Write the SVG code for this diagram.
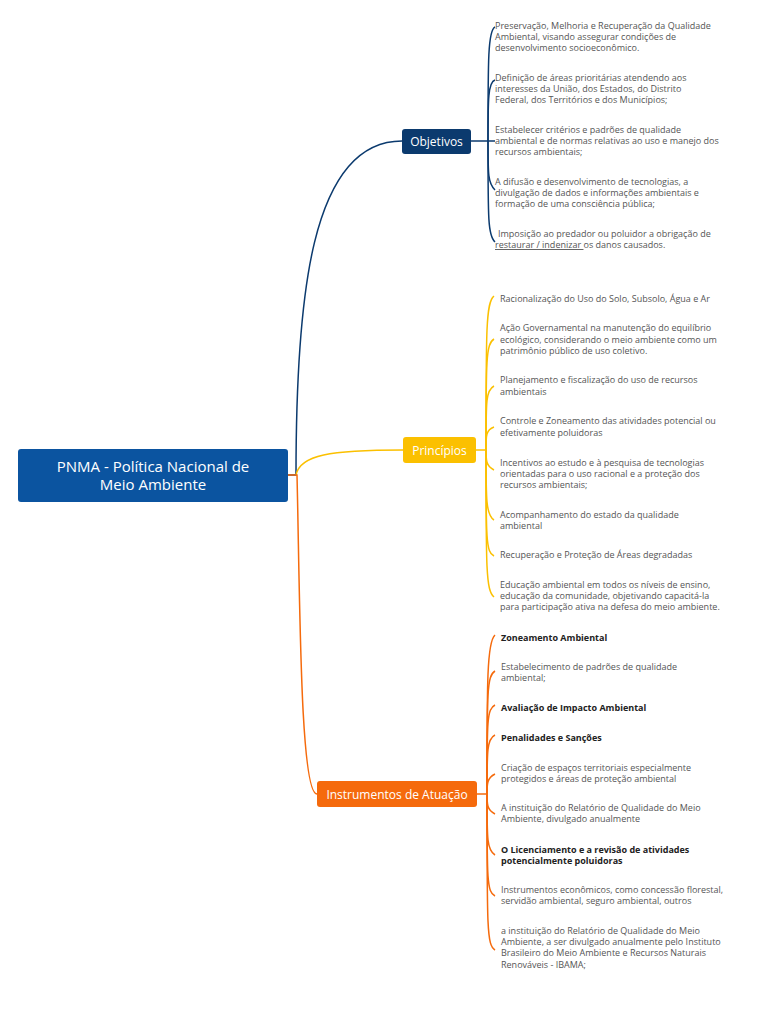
<svg xmlns="http://www.w3.org/2000/svg" width="768" height="1024" viewBox="0 0 768 1024">
<style>
.t{font-family:"Open Sans","Noto Sans",sans-serif;font-size:9px;fill:#555}
.b{font-family:"Open Sans","Noto Sans",sans-serif;font-size:9px;fill:#222;font-weight:bold}
.n{font-family:"Open Sans","Noto Sans",sans-serif;fill:#fff}
.cb{fill:none;stroke:#0b3a6e;stroke-width:1.5}
.cy{fill:none;stroke:#fbc000;stroke-width:1.5}
.co{fill:none;stroke:#f56a0c;stroke-width:1.5}
</style>
<rect width="768" height="1024" fill="#fff"/>
<g id="connectors">
<path class="cb" d="M288,475 L296,475 C296,300 310,141 402,141"/>
<path class="cy" d="M296,475 C300,455 330,450 403,450"/>
<path class="co" d="M288,475 L297,475 C300,600 300,794 317,794"/>
<g class="cb">
<path d="M471,141 L488,141"/>
<path d="M488,141 C488,60 488,30 495,27"/>
<path d="M488,141 C488,100 488,82 495,80"/>
<path d="M488,141 L495,141"/>
<path d="M488,141 C488,175 488,183 495,190"/>
<path d="M488,141 C488,220 488,236 495,242"/>
</g>
<g class="cy">
<path d="M476,450 L486,450"/>
<path d="M486,450 C486,330 486,302 494,296"/>
<path d="M486,450 C486,360 486,344 494,339"/>
<path d="M486,450 C486,400 486,390 494,386"/>
<path d="M486,450 C486,435 486,430 494,427"/>
<path d="M486,450 C486,460 486,466 494,470"/>
<path d="M486,450 C486,500 486,515 494,520"/>
<path d="M486,450 C486,540 486,552 494,556"/>
<path d="M486,450 C486,570 486,590 494,597"/>
</g>
<g class="co">
<path d="M477,794 L487,794"/>
<path d="M487,794 C487,680 487,642 495,635"/>
<path d="M487,794 C487,690 487,676 495,671"/>
<path d="M487,794 C487,720 487,709 495,705"/>
<path d="M487,794 C487,750 487,739 495,735"/>
<path d="M487,794 C487,784 487,778 495,774"/>
<path d="M487,794 C487,804 487,810 495,814"/>
<path d="M487,794 C487,840 487,850 495,855"/>
<path d="M487,794 C487,880 487,892 495,896"/>
<path d="M487,794 C487,930 487,945 495,950"/>
</g>
</g>
<g id="root">
<rect x="18" y="449" width="270" height="53" rx="3" fill="#0b54a0"/>
<text class="n" x="153" y="472" font-size="15" text-anchor="middle">PNMA - Política Nacional de</text>
<text class="n" x="153" y="490" font-size="15" text-anchor="middle">Meio Ambiente</text>
</g>
<g id="objetivos">
<rect x="402" y="129" width="69" height="25" rx="3" fill="#0b3a6e"/>
<text class="n" x="436.5" y="146" font-size="12" text-anchor="middle">Objetivos</text>
</g>
<g id="principios">
<rect x="403" y="437" width="73" height="26" rx="3" fill="#fbc000"/>
<text class="n" x="439.5" y="455" font-size="12" text-anchor="middle">Princípios</text>
</g>
<g id="instrumentos">
<rect x="317" y="781" width="160" height="26" rx="3" fill="#f56a0c"/>
<text class="n" x="397" y="799" font-size="12" text-anchor="middle">Instrumentos de Atuação</text>
</g>
<g id="obj-items">
<text class="t" x="495" y="29">Preservação, Melhoria e Recuperação da Qualidade</text>
<text class="t" x="495" y="40">Ambiental, visando assegurar condições de</text>
<text class="t" x="495" y="51">desenvolvimento socioeconômico.</text>
<text class="t" x="495" y="81">Definição de áreas prioritárias atendendo aos</text>
<text class="t" x="495" y="92">interesses da União, dos Estados, do Distrito</text>
<text class="t" x="495" y="103">Federal, dos Territórios e dos Municípios;</text>
<text class="t" x="495" y="133">Estabelecer critérios e padrões de qualidade</text>
<text class="t" x="495" y="144">ambiental e de normas relativas ao uso e manejo dos</text>
<text class="t" x="495" y="155">recursos ambientais;</text>
<text class="t" x="495" y="185">A difusão e desenvolvimento de tecnologias, a</text>
<text class="t" x="495" y="196">divulgação de dados e informações ambientais e</text>
<text class="t" x="495" y="207">formação de uma consciência pública;</text>
<text class="t" x="498" y="237">Imposição ao predador ou poluidor a obrigação de</text>
<text class="t" x="495" y="248"><tspan text-decoration="underline">restaurar / indenizar </tspan>os danos causados.</text>
</g>
<g id="prin-items">
<text class="t" x="500" y="302">Racionalização do Uso do Solo, Subsolo, Água e Ar</text>
<text class="t" x="500" y="331">Ação Governamental na manutenção do equilíbrio</text>
<text class="t" x="500" y="343">ecológico, considerando o meio ambiente como um</text>
<text class="t" x="500" y="354">patrimônio público de uso coletivo.</text>
<text class="t" x="500" y="383">Planejamento e fiscalização do uso de recursos</text>
<text class="t" x="500" y="395">ambientais</text>
<text class="t" x="500" y="424">Controle e Zoneamento das atividades potencial ou</text>
<text class="t" x="500" y="436">efetivamente poluidoras</text>
<text class="t" x="500" y="466">Incentivos ao estudo e à pesquisa de tecnologias</text>
<text class="t" x="500" y="477">orientadas para o uso racional e a proteção dos</text>
<text class="t" x="500" y="488">recursos ambientais;</text>
<text class="t" x="500" y="518">Acompanhamento do estado da qualidade</text>
<text class="t" x="500" y="529">ambiental</text>
<text class="t" x="500" y="558">Recuperação e Proteção de Áreas degradadas</text>
<text class="t" x="500" y="588">Educação ambiental em todos os níveis de ensino,</text>
<text class="t" x="500" y="599">educação da comunidade, objetivando capacitá-la</text>
<text class="t" x="500" y="610">para participação ativa na defesa do meio ambiente.</text>
</g>
<g id="inst-items">
<text class="b" x="501" y="641">Zoneamento Ambiental</text>
<text class="t" x="501" y="670">Estabelecimento de padrões de qualidade</text>
<text class="t" x="501" y="681">ambiental;</text>
<text class="b" x="501" y="711">Avaliação de Impacto Ambiental</text>
<text class="b" x="501" y="741">Penalidades e Sanções</text>
<text class="t" x="501" y="771">Criação de espaços territoriais especialmente</text>
<text class="t" x="501" y="782">protegidos e áreas de proteção ambiental</text>
<text class="t" x="501" y="811">A instituição do Relatório de Qualidade do Meio</text>
<text class="t" x="501" y="822">Ambiente, divulgado anualmente</text>
<text class="b" x="501" y="853">O Licenciamento e a revisão de atividades</text>
<text class="b" x="501" y="864">potencialmente poluidoras</text>
<text class="t" x="501" y="893">Instrumentos econômicos, como concessão florestal,</text>
<text class="t" x="501" y="904">servidão ambiental, seguro ambiental, outros</text>
<text class="t" x="501" y="934">a instituição do Relatório de Qualidade do Meio</text>
<text class="t" x="501" y="945">Ambiente, a ser divulgado anualmente pelo Instituto</text>
<text class="t" x="501" y="956">Brasileiro do Meio Ambiente e Recursos Naturais</text>
<text class="t" x="501" y="968">Renováveis - IBAMA;</text>
</g>
</svg>
